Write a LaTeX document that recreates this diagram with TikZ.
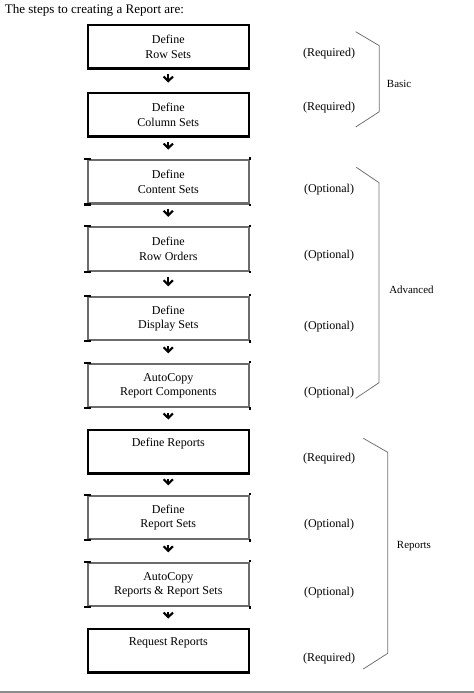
\documentclass[tikz,border=0pt]{standalone}
\usepackage{fontspec}
\setmainfont{Liberation Serif}
\usetikzlibrary{arrows.meta}
\begin{document}
\begin{tikzpicture}[x=0.75pt,y=-0.75pt,
  stepbox/.style={rectangle, minimum width=120.75pt, minimum height=32.6pt, inner sep=0pt,
    align=center, font=\fontsize{9}{10.8}\selectfont, fill=white},
  reqbox/.style={stepbox, draw=black, line width=1.7pt},
  optbox/.style={stepbox, draw=black!58, line width=1.7pt},
  lab/.style={font=\fontsize{9}{10.8}\selectfont, inner sep=0pt},
  grp/.style={font=\fontsize{8.2}{10}\selectfont, inner sep=0pt, anchor=west},
  brace/.style={draw=black!55, line width=0.6pt},
  arr/.style={-{Straight Barb[length=3.4pt,width=7pt,line width=1.6pt]}, line width=1.7pt, shorten <=3.5pt, shorten >=7pt}
]
\useasboundingbox (0,0) rectangle (474,693);
\node[anchor=west, inner sep=0pt, font=\fontsize{9.8}{12}\selectfont] (title) at (4.5,10) {The steps to creating a Report are:};

\node[reqbox] (b1) at (168.3,46.7) {Define\\Row Sets};
\node[reqbox] (b2) at (168.3,114.8) {Define\\Column Sets};
\node[optbox] (b3) at (168.3,181.8) {Define\\Content Sets};
\node[optbox] (b4) at (168.3,249) {Define\\Row Orders};
\node[optbox] (b5) at (168.3,318.5) {Define\\Display Sets};
\node[optbox] (b6) at (168.3,385.5) {AutoCopy\\Report Components};
\node[reqbox] (b7) at (168.3,451.7) {Define Reports\\\strut};
\node[optbox] (b8) at (168.3,517.5) {Define\\Report Sets};
\node[optbox] (b9) at (168.3,584.5) {AutoCopy\\Reports \& Report Sets};
\node[reqbox] (b10) at (168.3,650.8) {Request Reports\\\strut};

\foreach \n in {b3,b4,b5,b6,b8,b9}{
  \fill[black] (\n.north west) ++(-2.5,-1.1) rectangle ++(7,2.3);
  \fill[black] (\n.south west) ++(-2.5,-1.2) rectangle ++(7,2.3);
  \fill[black] (\n.north east) ++(-1,-1.6) rectangle ++(2,2.4);
  \fill[black] (\n.south east) ++(-1,-1) rectangle ++(2,2.4);
}

\foreach \a/\b in {b1/b2,b2/b3,b3/b4,b4/b5,b5/b6,b6/b7,b7/b8,b8/b9,b9/b10}{
  \draw[arr] (\a) -- (\b);
}

\node[lab] (l1) at (329,53.7) {(Required)};
\node[lab] (l2) at (329,107.7) {(Required)};
\node[lab] (l3) at (329,189.3) {(Optional)};
\node[lab] (l4) at (329,255.7) {(Optional)};
\node[lab] (l5) at (329,326.3) {(Optional)};
\node[lab] (l6) at (329,393) {(Optional)};
\node[lab] (l7) at (329,458.5) {(Required)};
\node[lab] (l8) at (329,525) {(Optional)};
\node[lab] (l9) at (329,592.5) {(Optional)};
\node[lab] (l10) at (329,658.7) {(Required)};

\draw[brace] (355.7,31.7) -- (379.3,45.7) -- (379.3,111.7) -- (355.7,127);
\node[grp] (g1) at (386.7,83.7) {Basic};
\draw[brace] (356.3,167.3) -- (379,182.7) -- (379,382.7) -- (355.7,398.3);
\node[grp] (g2) at (389,290) {Advanced};
\draw[brace] (363.3,438.3) -- (387.7,452.3) -- (387.7,653.3) -- (363.3,669);
\node[grp] (g3) at (396.7,545.7) {Reports};

\draw[black!45, line width=1.5pt] (0,691.5) -- (474,691.5);
\end{tikzpicture}
\end{document}
